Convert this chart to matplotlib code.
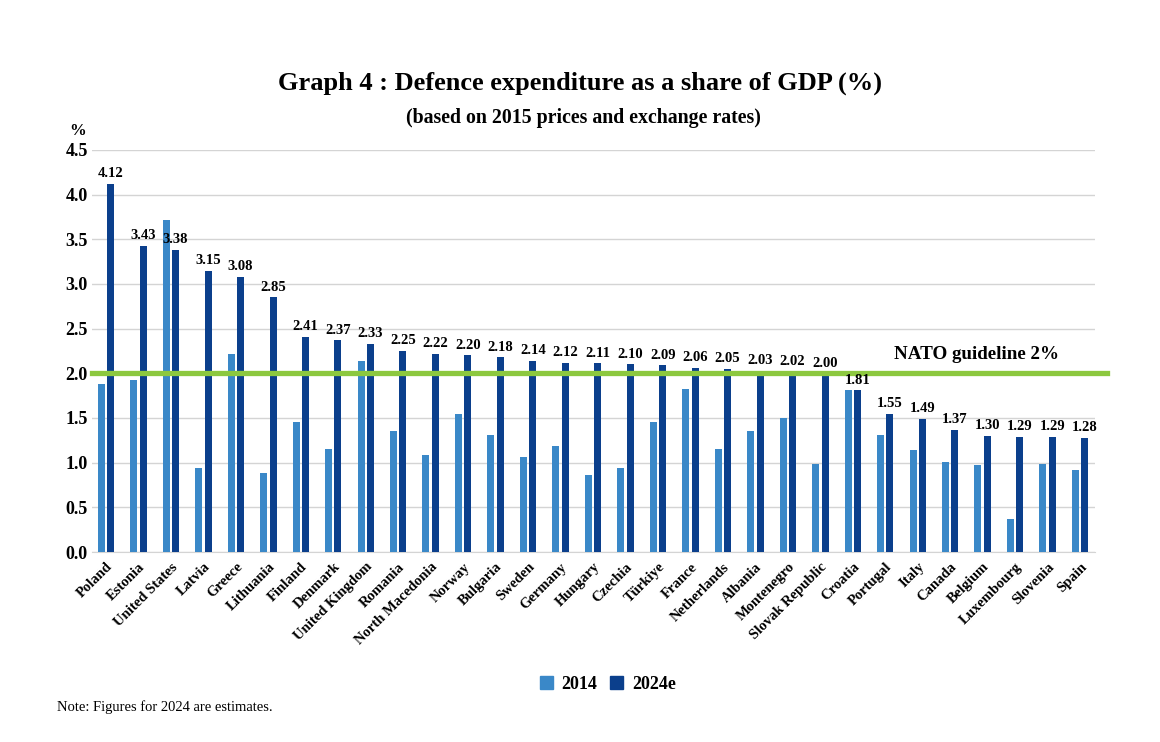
import numpy as np
import matplotlib
matplotlib.use("Agg")
import matplotlib.pyplot as plt
from matplotlib.patches import Patch

plt.rcParams['font.family'] = ['Liberation Serif', 'DejaVu Serif']

countries = ["Poland", "Estonia", "United States", "Latvia", "Greece", "Lithuania",
             "Finland", "Denmark", "United Kingdom", "Romania", "North Macedonia",
             "Norway", "Bulgaria", "Sweden", "Germany", "Hungary", "Czechia",
             "Türkiye", "France", "Netherlands", "Albania", "Montenegro",
             "Slovak Republic", "Croatia", "Portugal", "Italy", "Canada", "Belgium",
             "Luxembourg", "Slovenia", "Spain"]
val_2014 = [1.88, 1.93, 3.72, 0.94, 2.22, 0.88, 1.45, 1.15, 2.14, 1.35, 1.09,
            1.54, 1.31, 1.06, 1.19, 0.86, 0.94, 1.45, 1.82, 1.15, 1.35, 1.50,
            0.99, 1.81, 1.31, 1.14, 1.01, 0.97, 0.37, 0.98, 0.92]
val_2024 = [4.12, 3.43, 3.38, 3.15, 3.08, 2.85, 2.41, 2.37, 2.33, 2.25, 2.22,
            2.20, 2.18, 2.14, 2.12, 2.11, 2.10, 2.09, 2.06, 2.05, 2.03, 2.02,
            2.00, 1.81, 1.55, 1.49, 1.37, 1.30, 1.29, 1.29, 1.28]
guideline = 2.0

c_light = "#3a88c8"
c_dark = "#0b3f8c"
c_green = "#8cc83f"

fig = plt.figure(figsize=(11.6, 7.42), dpi=100)
ax = fig.add_axes([0.0793, 0.256, 0.8647, 0.542])

x = np.arange(len(countries))
w = 0.215
ax.bar(x - 0.145, val_2014, width=w, color=c_light, zorder=3)
ax.bar(x + 0.145, val_2024, width=w, color=c_dark, zorder=3)

for xi, v in zip(x, val_2024):
    ax.text(xi + 0.145, v + 0.04, f"{v:.2f}", ha="center", va="bottom",
            fontsize=10.5, fontweight="bold", zorder=5)

ax.axhline(guideline, color=c_green, lw=3.8, zorder=4, xmax=1.012, clip_on=False)
ax.text(26.8, guideline + 0.11, "NATO guideline 2%", ha="center", va="bottom",
        fontsize=13.7, fontweight="bold")

ax.set_ylim(0, 4.5)
ax.set_xlim(-0.43, 30.46)
ax.set_yticks(np.arange(0, 4.51, 0.5))
ax.set_yticklabels([f"{t:.1f}" for t in np.arange(0, 4.51, 0.5)],
                   fontsize=13, fontweight="bold")
ax.yaxis.grid(True, color="#d4d4d4", lw=1, zorder=0)
ax.set_axisbelow(True)
for s in ["top", "right", "left"]:
    ax.spines[s].set_visible(False)
ax.spines["bottom"].set_color("#d4d4d4")
ax.tick_params(axis="both", length=0)
ax.set_xticks(x)
ax.set_xticklabels(countries, rotation=45, ha="right", rotation_mode="anchor",
                   fontsize=10.5, fontweight="bold")
ax.tick_params(axis="y", pad=3)
ax.tick_params(axis="x", pad=6)

fig.text(0.067, 0.818, "%", fontsize=12, fontweight="bold", ha="center")
fig.text(0.5, 0.888, "Graph 4 : Defence expenditure as a share of GDP (%)",
         ha="center", va="center", fontsize=19, fontweight="bold")
fig.text(0.503, 0.841, "(based on 2015 prices and exchange rates)",
         ha="center", va="center", fontsize=14.3, fontweight="bold")
fig.text(0.049, 0.042, "Note: Figures for 2024 are estimates.", fontsize=10.5)

handles = [Patch(color=c_light, label="2014"), Patch(color=c_dark, label="2024e")]
fig.legend(handles=handles, loc="center", bbox_to_anchor=(0.524, 0.078), ncol=2,
           frameon=False, prop={"weight": "bold", "size": 13},
           handlelength=0.7, handleheight=0.7, columnspacing=0.7, handletextpad=0.5)

fig.savefig("out.png", dpi=100, facecolor="white")
